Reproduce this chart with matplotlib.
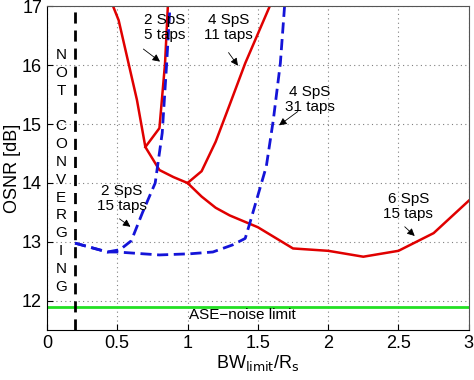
import numpy as np
import matplotlib
matplotlib.use("Agg")
from matplotlib import pyplot as plt

plt.rcParams['font.family'] = ['Liberation Sans', 'DejaVu Sans']

# red solid curves
sps6_x = [0.47, 0.51, 0.64, 0.70, 0.80, 0.90, 1.0, 1.1, 1.2, 1.3, 1.5, 1.75, 2.0, 2.25, 2.5, 2.75, 3.0]
sps6_y = [17.0, 16.76, 15.41, 14.61, 14.22, 14.1, 14.0, 13.77, 13.58, 13.45, 13.25, 12.89, 12.85, 12.75, 12.85, 13.15, 13.7]

sps2_5_x = [0.70, 0.80, 0.84, 0.86]
sps2_5_y = [14.61, 14.93, 16.03, 17.0]

sps4_11_x = [1.0, 1.1, 1.2, 1.3, 1.41, 1.585]
sps4_11_y = [14.0, 14.2, 14.7, 15.33, 16.03, 17.0]

# blue dashed curves
sps2_15_x = [0.2, 0.43, 0.52, 0.60, 0.68, 0.77, 0.82, 0.85, 0.875]
sps2_15_y = [12.98, 12.83, 12.87, 13.02, 13.5, 14.0, 14.85, 15.97, 17.0]

sps4_31_x = [0.2, 0.43, 0.5, 0.8, 1.02, 1.18, 1.32, 1.41, 1.443, 1.56, 1.61, 1.66, 1.69]
sps4_31_y = [12.98, 12.83, 12.83, 12.78, 12.8, 12.83, 12.95, 13.06, 13.32, 14.28, 15.07, 16.03, 17.0]

ase_limit = 11.9
bw_min = 0.2
not_conv = "NOT CONVERGING"

fig = plt.figure(figsize=(4.74, 3.8), dpi=100)
ax = fig.add_axes([0.099, 0.132, 0.89, 0.852])

red = '#e00000'
blue = '#1414d8'
ax.plot(sps6_x, sps6_y, color=red, lw=1.8)
ax.plot(sps2_5_x, sps2_5_y, color=red, lw=1.8)
ax.plot(sps4_11_x, sps4_11_y, color=red, lw=1.8)
ax.plot(sps2_15_x, sps2_15_y, color=blue, lw=2, ls=(0, (4, 2)))
ax.plot(sps4_31_x, sps4_31_y, color=blue, lw=2, ls=(0, (4, 2)))
ax.axhline(ase_limit, color='#22e022', lw=2)
ax.axvline(bw_min, color='black', lw=2, ls=(0, (4, 2.5)))

ax.set_xlim(0, 3)
ax.set_ylim(11.51, 17)
ax.set_xticks(np.arange(0, 3.01, 0.5))
ax.set_xticklabels(['0', '0.5', '1', '1.5', '2', '2.5', '3'])
ax.set_yticks([12, 13, 14, 15, 16, 17])
ax.tick_params(direction='in', labelsize=13, length=4)
ax.grid(True, ls=(0, (1, 3)), color='#808080', lw=0.8)
for s in ax.spines.values():
    s.set_color('#555555')
ax.spines['left'].set_color('black')
ax.spines['bottom'].set_color('black')

ax.set_xlabel(r'BW$_{\mathrm{limit}}$/R$_{\mathrm{s}}$', fontsize=13, labelpad=1)
ax.set_ylabel('OSNR [dB]', fontsize=13, labelpad=1)

fs = 11
arr = dict(arrowstyle='-|>', color='black', lw=0.6, mutation_scale=11)
ax.annotate('2 SpS\n5 taps', xy=(0.82, 16.03), xytext=(0.84, 16.64), fontsize=fs,
            ha='center', va='center', linespacing=1.1)
ax.annotate('', xy=(0.82, 16.03), xytext=(0.67, 16.3), arrowprops=arr)
ax.annotate('4 SpS\n11 taps', xy=(1.37, 15.95), xytext=(1.29, 16.64), fontsize=fs,
            ha='center', va='center', linespacing=1.1)
ax.annotate('', xy=(1.37, 15.95), xytext=(1.28, 16.25), arrowprops=arr)
ax.annotate('4 SpS\n31 taps', xy=(1.635, 14.95), xytext=(1.87, 15.42), fontsize=fs,
            ha='center', va='center', linespacing=1.1)
ax.annotate('', xy=(1.635, 14.95), xytext=(1.80, 15.24), arrowprops=arr)
ax.annotate('2 SpS\n15 taps', xy=(0.61, 13.23), xytext=(0.53, 13.73), fontsize=fs,
            ha='center', va='center', linespacing=1.1)
ax.annotate('', xy=(0.61, 13.23), xytext=(0.50, 13.42), arrowprops=arr)
ax.annotate('6 SpS\n15 taps', xy=(2.63, 13.07), xytext=(2.57, 13.6), fontsize=fs,
            ha='center', va='center', linespacing=1.1)
ax.annotate('', xy=(2.63, 13.07), xytext=(2.53, 13.29), arrowprops=arr)

ax.text(1.39, 11.76, 'ASE\u2212noise limit', fontsize=fs, ha='center', va='center')

for i, ch in enumerate(not_conv):
    ax.text(0.1, 16.17 - i * 0.302, ch, fontsize=fs, ha='center', va='center')

fig.savefig('out.png', dpi=100)
